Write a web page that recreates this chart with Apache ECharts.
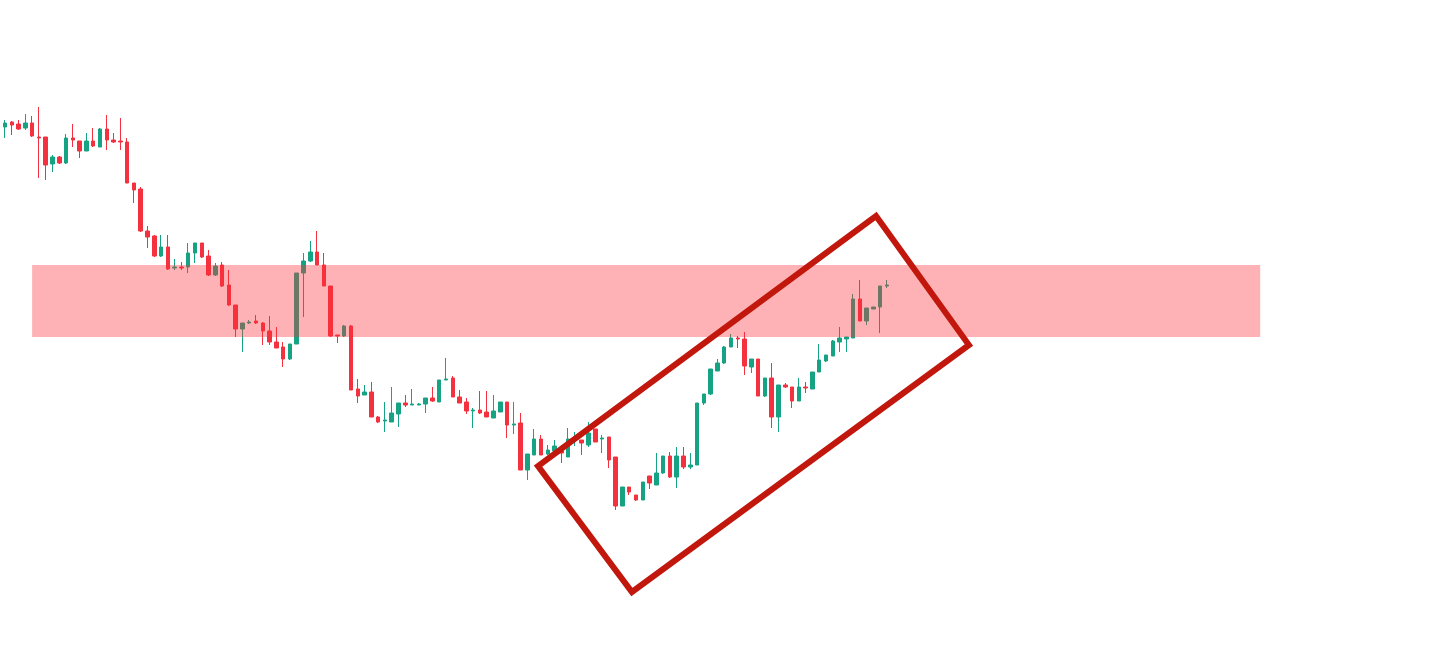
<!DOCTYPE html>
<html>
<head>
<meta charset="utf-8">
<style>
  html, body { margin: 0; padding: 0; background: #ffffff; }
  #chart { width: 1440px; height: 670px; }
</style>
<script src="https://cdn.jsdelivr.net/npm/echarts@6/dist/echarts.min.js"></script>
</head>
<body>
<div id="chart"></div>
<script>
// ---- Data (prices) ----
const opens = [57.3,57.8,57.6,57.2,57.7,56.3,56.3,53.6,54.3,53.7,
  56.2,55.9,54.9,55.9,55.3,57.1,56.0,55.9,55.8,51.7,
  51.1,46.9,46.4,44.4,45.3,43.2,43.3,43.3,44.7,45.7,
  44.4,42.5,43.5,41.5,39.5,37.1,37.7,37.9,37.7,36.9,
  35.8,35.3,34.1,35.6,42.7,43.9,44.8,43.5,41.4,36.5,
  36.4,37.4,31.1,30.5,30.8,28.3,27.9,27.8,28.6,29.7,
  29.5,29.5,29.6,30.2,29.8,32.0,32.2,30.3,29.8,28.9,
  29.0,28.8,28.2,28.8,29.8,27.5,27.7,23.0,24.5,26.1,
  24.6,24.9,24.9,24.3,26.0,26.0,25.5,27.1,26.1,26.3,
  24.3,19.4,21.3,20.5,20.0,22.4,21.5,22.7,24.4,22.3,
  24.4,23.3,23.5,29.7,30.6,32.9,33.7,35.3,36.2,36.1,
  33.3,34.1,30.4,32.2,28.3,31.5,31.3,29.9,31.3,31.1,
  32.8,33.9,34.4,35.8,36.1,36.2,40.1,37.9,39.1,39.3,41.4];
const closes = [57.7,57.5,57.1,57.7,56.4,56.2,53.5,54.3,53.7,56.2,
  56.0,54.9,55.9,55.4,57.1,56.0,55.8,55.8,51.7,51.0,
  46.9,46.3,44.4,45.3,43.1,43.3,43.2,44.7,45.7,44.3,
  42.5,43.4,41.4,39.5,37.1,37.7,37.8,37.7,36.9,35.8,
  35.2,34.1,35.6,42.7,43.9,44.8,43.5,41.4,36.4,36.4,
  37.4,31.0,30.4,30.8,28.3,27.8,28.0,28.7,29.7,29.5,
  29.6,29.6,30.2,29.9,32.0,32.1,30.3,29.7,28.9,29.0,
  28.7,28.3,28.9,29.8,27.5,27.6,23.0,24.6,26.1,24.5,
  25.0,25.4,24.7,26.1,26.1,25.7,26.7,25.8,26.2,24.0,
  19.4,21.3,20.8,20.0,21.8,21.7,22.7,24.4,22.3,24.4,
  23.3,23.5,29.7,30.6,33.1,33.7,35.3,36.2,36.1,33.4,
  34.1,30.4,32.2,28.3,31.5,31.3,29.9,31.3,31.2,32.8,
  34.0,34.5,35.9,36.2,36.3,40.1,37.9,39.2,39.3,41.4,41.5];
const lows = [56.2,56.5,57.0,57.0,56.3,52.2,52.0,52.8,53.6,53.6,
  55.3,54.2,54.9,55.3,55.3,55.0,55.7,55.0,51.7,49.7,
  46.8,45.2,44.3,44.3,43.0,43.0,43.0,42.7,43.7,44.2,
  42.4,42.4,41.3,39.4,36.3,34.8,37.6,37.6,35.5,35.5,
  35.2,33.3,34.0,35.6,38.3,43.8,43.5,41.4,36.3,35.7,
  36.3,31.0,29.7,30.5,28.3,27.7,26.8,27.8,27.3,29.3,
  29.5,29.5,28.7,29.8,29.8,32.0,30.3,29.7,28.6,27.2,
  28.6,28.3,28.2,28.8,26.2,26.6,23.0,22.0,24.5,24.5,
  24.5,24.4,23.7,24.3,25.4,24.5,25.3,25.8,24.7,23.2,
  19.0,19.4,20.5,19.9,20.0,21.1,21.5,22.6,22.2,21.2,
  23.1,23.1,23.5,29.5,30.5,32.9,33.6,35.3,35.2,32.5,
  32.7,30.4,30.3,27.2,26.8,31.2,29.2,29.9,30.7,31.1,
  32.8,33.8,34.4,34.8,34.8,36.2,37.9,37.5,39.1,36.7,41.2];
const highs = [58.0,57.9,58.0,58.6,58.4,59.3,56.3,54.5,54.4,56.6,
  57.6,55.9,56.7,57.2,57.2,58.5,56.7,58.2,56.2,51.7,
  51.3,47.4,46.5,46.5,46.5,44.1,43.8,45.7,45.7,45.7,
  45.0,43.7,43.8,43.0,39.5,37.7,38.0,38.5,37.8,38.4,
  37.3,35.8,35.6,42.7,44.7,45.9,46.9,44.7,41.4,36.5,
  37.5,37.5,32.1,31.5,31.8,28.4,29.8,31.3,29.7,30.5,
  31.1,29.7,30.2,31.3,32.0,34.2,32.4,31.0,30.2,29.2,
  30.9,30.9,30.5,29.8,29.8,29.8,28.7,24.6,27.1,26.5,
  25.5,26.0,25.5,27.2,26.8,26.0,27.8,27.1,26.5,26.3,
  24.3,21.3,21.3,20.5,21.8,22.4,24.7,24.4,24.8,25.3,
  25.3,24.7,29.7,30.6,33.1,34.1,35.4,36.6,36.4,36.8,
  34.1,34.1,32.2,33.7,31.5,31.7,31.3,32.2,31.8,32.8,
  35.6,34.5,36.0,37.3,36.3,40.6,42.0,39.2,39.3,41.4,42.0];

// zone (price band) and the channel box corners [bar index, price]
const zoneTop = 43.5, zoneBottom = 36.3;
const zoneStartBar = 4, zoneEndBar = 185;
const boxCorners = [[128.38, 48.4], [142.07, 35.5], [92.4, 10.8], [78.56, 23.4]];

const totalSlots = 212; // bars plus empty space on the right
const categories = [];
for (let i = 0; i < totalSlots; i++) categories.push('B' + (i + 1));

const candleData = opens.map((o, i) => [o, closes[i], lows[i], highs[i]]);

const UP = '#16a383', DOWN = '#f4313f';

const chart = echarts.init(document.getElementById('chart'), null, { renderer: 'canvas' });
chart.setOption({
  animation: false,
  backgroundColor: '#ffffff',
  grid: { left: 1.6, top: 0, width: totalSlots * 6.785, height: 670 },
  xAxis: {
    type: 'category', data: categories, boundaryGap: true, show: false
  },
  yAxis: {
    type: 'value', min: 3, max: 70, show: false, splitLine: { show: false }
  },
  series: [
    {
      type: 'candlestick',
      data: candleData,
      barWidth: 4,
      z: 2,
      itemStyle: {
        color: UP, color0: DOWN, borderColor: UP, borderColor0: DOWN, borderWidth: 1
      }
    },
    {
      type: 'line',
      data: [],
      z: 10,
      silent: true,
      markArea: {
        silent: true,
        z: 10,
        itemStyle: { color: 'rgba(255, 45, 55, 0.37)' },
        data: [[
          { xAxis: categories[zoneStartBar], yAxis: zoneTop },
          { xAxis: categories[zoneEndBar], yAxis: zoneBottom }
        ]]
      }
    }
  ]
});

// channel box drawn from data coordinates
const x0 = chart.convertToPixel({ xAxisIndex: 0 }, categories[0]);
const x1 = chart.convertToPixel({ xAxisIndex: 0 }, categories[1]);
const dx = x1 - x0;
const pts = boxCorners.map(([b, p]) => [x0 + b * dx, chart.convertToPixel({ yAxisIndex: 0 }, p)]);
chart.setOption({
  graphic: [{
    type: 'polygon',
    z: 100,
    silent: true,
    shape: { points: pts },
    style: { fill: null, stroke: '#c2170d', lineWidth: 6, lineJoin: 'miter' }
  }]
});
</script>
</body>
</html>
